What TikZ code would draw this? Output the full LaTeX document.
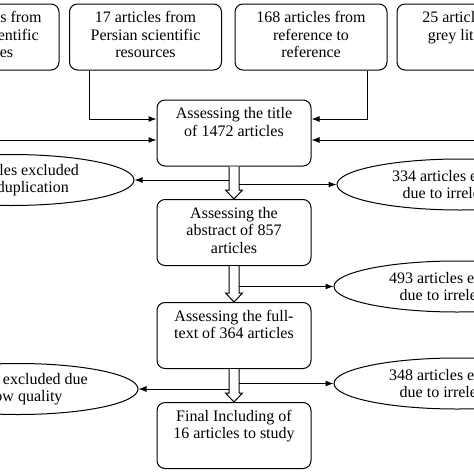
\documentclass[tikz,border=0pt]{standalone}
\usepackage{fontspec}
\setmainfont{Liberation Serif}
\usetikzlibrary{
  shapes.geometric,
  calc,
  positioning,
  arrows.meta
}

\newcommand{\boxtext}[1]{\parbox[c][60pt][t]{150pt}{\centering\rule{0pt}{15.5pt}#1}}

\tikzset{
  srcbox/.style = {draw, rounded corners=8pt, minimum width=152pt, minimum height=66pt, inner sep=0pt},
  stagebox/.style = {draw, rounded corners=8pt, minimum width=154pt, minimum height=66pt, inner sep=0pt},
  exclbox/.style = {draw, ellipse, minimum width=246pt, minimum height=51pt, inner sep=0pt, align=center},
  arr/.style = {-{Latex[length=8pt,width=6pt]}}
}

\begin{document}
\begin{tikzpicture}[x=1pt, y=-1pt, line width=1pt, font=\fontsize{16}{17.5}\selectfont]
    \useasboundingbox (0,0) rectangle (474,474);

    % sources
    \node[srcbox] (english) at (-17,37) {\boxtext{1262 articles from\\English scientific\\resources}};
    \node[srcbox] (persian) at (145.5,37) {\boxtext{17 articles from\\Persian scientific\\resources}};
    \node[srcbox] (ref) at (311,37) {\boxtext{168 articles from\\reference to\\reference}};
    \node[srcbox] (grey) at (473,37) {\boxtext{25 articles from\\grey literature}};

    % stages
    \node[stagebox] (title) at (234,133) {\boxtext{Assessing the title\\of 1472 articles}};
    \node[stagebox] (abstract) at (234,232.5) {\boxtext{Assessing the\\abstract of 857\\articles}};
    \node[stagebox] (fulltext) at (234,335.5) {\boxtext{Assessing the full-\\text of 364 articles}};
    \node[stagebox] (final) at (234,435.5) {\boxtext{Final Including of\\16 articles to study}};

    % excluded
    \node[exclbox] (dup) at (11,180) {281 articles excluded\\due to duplication};
    \node[exclbox] (irr1) at (460,184.5) {334 articles excluded\\due to irrelevance};
    \node[exclbox] (irr2) at (457,286.5) {493 articles excluded\\due to irrelevance};
    \node[exclbox, minimum width=240pt] (lowq) at (18,389) {Articles excluded due\\to low quality};
    \node[exclbox] (irr3) at (457,383.5) {348 articles excluded\\due to irrelevance};

    \draw[arr] ([xshift=-56pt]persian.south) |- ([yshift=14pt]title.west);
    \draw[arr] ([xshift=56pt]ref.south) |- ([yshift=14pt]title.east);
    \draw[arr] ([xshift=-56pt]english.south) |- ([yshift=-7pt]title.west);
    \draw[arr] ([xshift=56pt]grey.south) |- ([yshift=-7pt]title.east);

    \foreach \a/\b in {title/abstract, abstract/fulltext, fulltext/final}
      \draw[fill=white] ($(\a.south)+(-5pt,0pt)$) -- ($(\b.north)+(-5pt,9pt)$) -- ($(\b.north)+(-8.5pt,9pt)$)
        -- (\b.north) -- ($(\b.north)+(8.5pt,9pt)$) -- ($(\b.north)+(5pt,9pt)$) -- ($(\a.south)+(5pt,0pt)$);

    \draw[arr] ([xshift=-5pt]title.south |- dup.east) -- (dup.east);
    \draw[arr] ([xshift=5pt]title.south |- irr1.west) -- (irr1.west);
    \draw[arr] ([xshift=5pt]abstract.south |- irr2.west) -- (irr2.west);
    \draw[arr] ([xshift=-5pt]fulltext.south |- lowq.east) -- (lowq.east);
    \draw[arr] ([xshift=5pt]fulltext.south |- irr3.west) -- (irr3.west);
\end{tikzpicture}
\end{document}
